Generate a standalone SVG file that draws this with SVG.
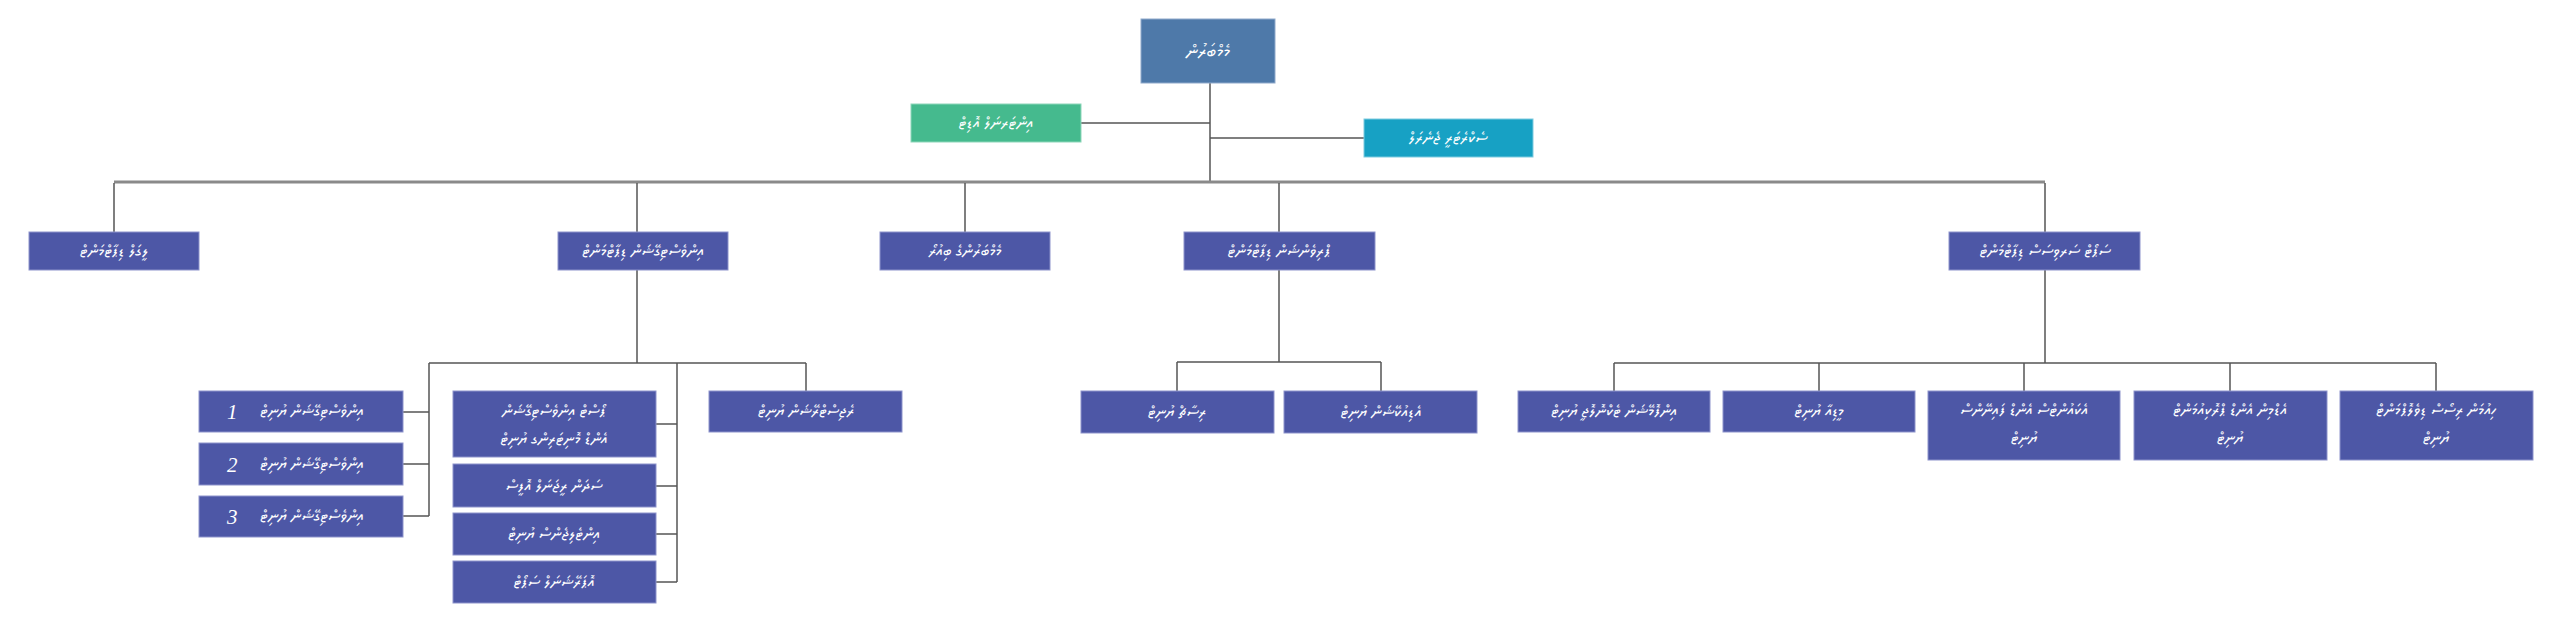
<svg xmlns="http://www.w3.org/2000/svg" width="2560" height="635" viewBox="0 0 2560 635">
<style>
.bx{fill:#4D57A6;stroke:#8D93CB;stroke-width:1}
.top{fill:#4E79A9;stroke:#8FAACB;stroke-width:1}
.grn{fill:#45BA8E;stroke:#8ED6B9;stroke-width:1}
.cyn{fill:#17A1C4;stroke:#7FCBE0;stroke-width:1}
.t{font-family:"Noto Sans Thaana","MV Faruma","Faruma","MV Boli","DejaVu Sans","Noto Sans",sans-serif;font-size:16px;fill:#FFFFFF;text-anchor:middle;dominant-baseline:central;direction:rtl;unicode-bidi:embed}
.n{font-family:"Liberation Serif",serif;font-style:italic;font-size:21px;fill:#FFFFFF;dominant-baseline:central}
.ln{fill:none;stroke:#555555;stroke-width:1.5}
.bar{fill:none;stroke:#8A8A8A;stroke-width:3}
</style>
<rect width="2560" height="635" fill="#FFFFFF"/>
<g id="connectors">
<path class="ln" d="M1210 83V182M1081 123H1210M1210 138H1364"/>
<path class="bar" d="M114 182H2045"/>
<path class="ln" d="M114 183V232M637 183V232M965 183V232M1279 183V232M2045 183V232"/>
<path class="ln" d="M637 270V363M429 363H806M429 363V516M403 412H429M403 464H429M403 516H429M677 363V582M656 424H677M656 486H677M656 534H677M656 582H677M806 363V391"/>
<path class="ln" d="M1279 270V362M1177 362H1381M1177 362V391M1381 362V391"/>
<path class="ln" d="M2045 270V363M1614 363H2436M1614 363V391M1819 363V391M2024 363V391M2230 363V391M2436 363V391"/>
</g>
<g id="n-top"><rect class="top" x="1141" y="19" width="134" height="64"/><text class="t" x="1208" y="51" style="font-size:18px">މެމްބަރުން</text></g>
<g id="n-audit"><rect class="grn" x="911" y="104" width="170" height="38"/><text class="t" x="996" y="123">އިންޓަރނަލް އޮޑިޓް</text></g>
<g id="n-sg"><rect class="cyn" x="1364" y="119" width="169" height="38"/><text class="t" x="1448" y="138">ސެކްރެޓަރީ ޖެނެރަލް</text></g>
<g id="n-legal"><rect class="bx" x="29" y="232" width="170" height="38"/><text class="t" x="114" y="251">ލީގަލް ޑިޕާޓްމަންޓް</text></g>
<g id="n-inv"><rect class="bx" x="558" y="232" width="170" height="38"/><text class="t" x="643" y="251">އިންވެސްޓިގޭޝަން ޑިޕާޓްމަންޓް</text></g>
<g id="n-bureau"><rect class="bx" x="880" y="232" width="170" height="38"/><text class="t" x="965" y="251">މެމްބަރުންގެ ބިއުރޯ</text></g>
<g id="n-prev"><rect class="bx" x="1184" y="232" width="191" height="38"/><text class="t" x="1279" y="251">ޕްރިވެންޝަން ޑިޕާޓްމަންޓް</text></g>
<g id="n-support"><rect class="bx" x="1949" y="232" width="191" height="38"/><text class="t" x="2045" y="251">ސަޕޯޓް ސަރވިސަސް ޑިޕާޓްމަންޓް</text></g>
<g id="n-iu1"><rect class="bx" x="199" y="391" width="204" height="41"/><text class="t" x="312" y="411">އިންވެސްޓިގޭޝަން ޔުނިޓް</text><text class="n" x="227" y="412">1</text></g>
<g id="n-iu2"><rect class="bx" x="199" y="443" width="204" height="42"/><text class="t" x="312" y="464">އިންވެސްޓިގޭޝަން ޔުނިޓް</text><text class="n" x="227" y="465">2</text></g>
<g id="n-iu3"><rect class="bx" x="199" y="496" width="204" height="41"/><text class="t" x="312" y="516">އިންވެސްޓިގޭޝަން ޔުނިޓް</text><text class="n" x="227" y="517">3</text></g>
<g id="n-pim"><rect class="bx" x="453" y="391" width="203" height="66"/><text class="t" x="554" y="411">ޕޯސްޓް އިންވެސްޓިގޭޝަން</text><text class="t" x="554" y="439">އެންޑް މޮނިޓަރިންގ ޔުނިޓް</text></g>
<g id="n-sro"><rect class="bx" x="453" y="464" width="203" height="43"/><text class="t" x="554" y="486">ސަދަން ރީޖަނަލް އޮފީސް</text></g>
<g id="n-intel"><rect class="bx" x="453" y="513" width="203" height="42"/><text class="t" x="554" y="534">އިންޓެލިޖެންސް ޔުނިޓް</text></g>
<g id="n-ops"><rect class="bx" x="453" y="561" width="203" height="42"/><text class="t" x="554" y="582">އޮޕަރޭޝަނަލް ސަޕޯޓް</text></g>
<g id="n-reg"><rect class="bx" x="709" y="391" width="193" height="41"/><text class="t" x="806" y="411">ރެޖިސްޓްރޭޝަން ޔުނިޓް</text></g>
<g id="n-research"><rect class="bx" x="1081" y="391" width="193" height="42"/><text class="t" x="1177" y="412">ރިސާޗް ޔުނިޓް</text></g>
<g id="n-edu"><rect class="bx" x="1284" y="391" width="193" height="42"/><text class="t" x="1381" y="412">އެޑިއުކޭޝަން ޔުނިޓް</text></g>
<g id="n-it"><rect class="bx" x="1518" y="391" width="192" height="41"/><text class="t" x="1614" y="411">އިންފޮމޭޝަން ޓެކްނޮލޮޖީ ޔުނިޓް</text></g>
<g id="n-media"><rect class="bx" x="1723" y="391" width="192" height="41"/><text class="t" x="1819" y="411">މީޑިއާ ޔުނިޓް</text></g>
<g id="n-fin"><rect class="bx" x="1928" y="391" width="192" height="69"/><text class="t" x="2024" y="410">އެކައުންޓްސް އެންޑް ފައިނޭންސް</text><text class="t" x="2024" y="438">ޔުނިޓް</text></g>
<g id="n-admin"><rect class="bx" x="2134" y="391" width="193" height="69"/><text class="t" x="2230" y="410">އެޑްމިން އެންޑް ޕްރޮކިއުމަންޓް</text><text class="t" x="2230" y="438">ޔުނިޓް</text></g>
<g id="n-hrd"><rect class="bx" x="2340" y="391" width="193" height="69"/><text class="t" x="2436" y="410">ހިއުމަން ރިސޯސް ޑިވެލޮޕްމަންޓް</text><text class="t" x="2436" y="438">ޔުނިޓް</text></g>
</svg>
